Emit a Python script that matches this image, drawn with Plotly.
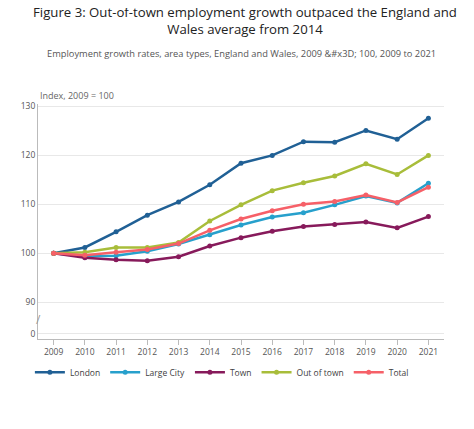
import plotly.graph_objects as go

years = list(range(2009, 2022))
london = [100, 101.2, 104.4, 107.8, 110.5, 114.0, 118.4, 120.0, 122.8, 122.7, 125.1, 123.3, 127.6]
large_city = [100, 99.4, 99.5, 100.4, 101.9, 103.8, 105.8, 107.4, 108.3, 109.9, 111.7, 110.3, 114.3]
town = [100, 99.1, 98.7, 98.5, 99.3, 101.5, 103.2, 104.5, 105.5, 105.9, 106.4, 105.2, 107.5]
out_of_town = [100, 100.2, 101.2, 101.2, 102.2, 106.6, 109.9, 112.8, 114.4, 115.8, 118.3, 116.1, 120.0]
total = [100, 99.6, 100.2, 100.8, 102.0, 104.7, 107.0, 108.7, 110.0, 110.6, 111.9, 110.4, 113.5]
series = [("London", london, "#206095"), ("Large City", large_city, "#27a0cc"),
          ("Town", town, "#871a5b"), ("Out of town", out_of_town, "#a8bd3a"),
          ("Total", total, "#f66068")]
tickvals = [83.6, 90, 100, 110, 120, 130]
ticktext = ["0", "90", "100", "110", "120", "130"]

fig = go.Figure()
for name, vals, col in series:
    fig.add_trace(go.Scatter(x=years, y=vals, name=name, mode="lines+markers",
                             line=dict(color=col, width=2.5), marker=dict(size=5, color=col)))
fig.update_layout(
    width=474, height=429, plot_bgcolor="white", paper_bgcolor="white",
    font=dict(family="Open Sans", color="#414042"),
    margin=dict(l=30, r=38, t=96, b=98),
    title=dict(text="Figure 3: Out-of-town employment growth outpaced the England and<br>Wales average from 2014",
               x=0.5, xanchor="center", y=0.98, yanchor="top", font=dict(size=13.2, color="#222")),
    xaxis=dict(tickvals=years, ticks="outside", ticklen=5, tickcolor="#bbb", showgrid=False,
               showline=True, linecolor="#bbb", tickfont=dict(size=8.5, color="#555"),
               range=[2008.5, 2021.5]),
    yaxis=dict(range=[82.5, 130.5], tickvals=tickvals, ticktext=ticktext, gridcolor="#e8e8e8",
               showline=True, linecolor="#bbb", zeroline=False, tickfont=dict(size=8.5, color="#555")),
    legend=dict(orientation="h", x=-0.02, y=-0.08, yanchor="top", font=dict(size=8.5),
                itemwidth=30, tracegroupgap=0),
    annotations=[
        dict(text="Employment growth rates, area types, England and Wales, 2009 &amp;#x3D; 100, 2009 to 2021",
             xref="paper", yref="paper", x=0.5, y=1.25, showarrow=False, font=dict(size=9.3, color="#555")),
        dict(text="Index, 2009 = 100", xref="paper", yref="paper", x=0, y=1.0, xanchor="left",
             yanchor="bottom", showarrow=False, font=dict(size=9, color="#666")),
        dict(text="/", xref="paper", yref="y", x=0, xanchor="center", y=86.5, showarrow=False,
             font=dict(size=12, color="#999")),
    ],
)
fig.write_html("out.html")
